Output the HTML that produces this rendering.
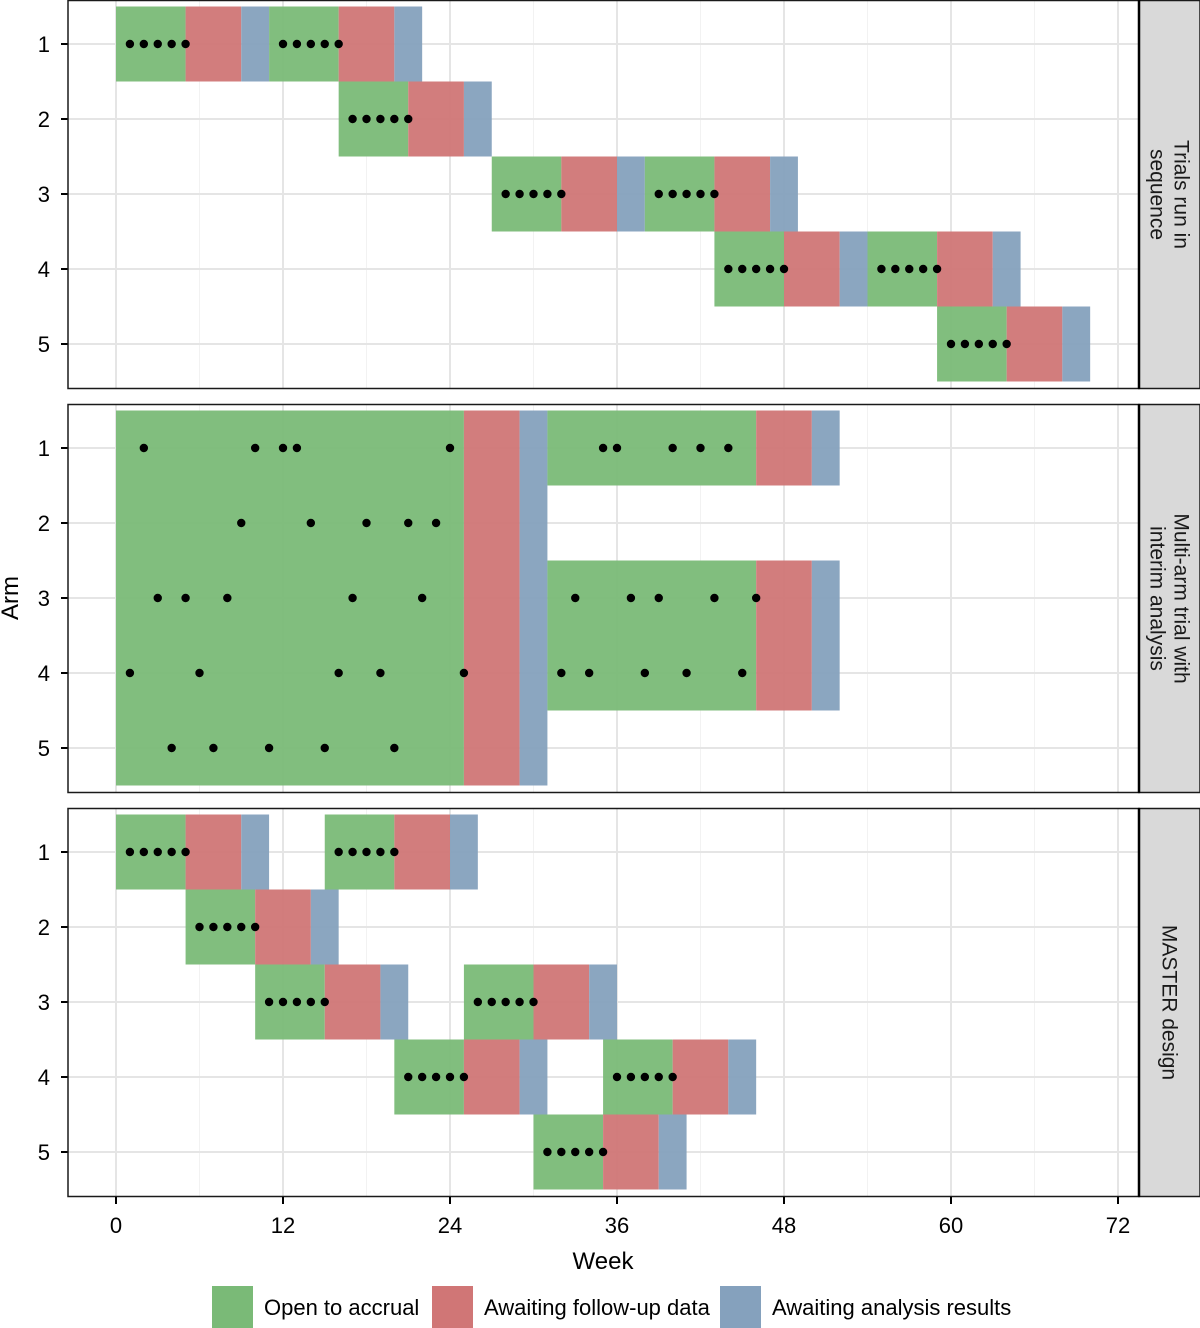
<!DOCTYPE html>
<html><head><meta charset="utf-8"><style>
html,body{margin:0;padding:0;background:#fff}
svg{display:block;font-family:"Liberation Sans",sans-serif}
</style></head><body>
<svg id="chart" width="1200" height="1328" viewBox="0 0 1200 1328"></svg>
<script>
// ---- data ----
const panelTitles = [["Trials run in","sequence"],["Multi-arm trial with","interim analysis"],["MASTER design"]];
const armLabels = ["1","2","3","4","5"];
const xTicks = [0,12,24,36,48,60,72];
// segments: [panel, armStart, armEnd, startWeek, endWeek, phase] phase 0=open,1=follow-up,2=analysis
const segments = [
 [0,1,1,0,5,0],[0,1,1,5,9,1],[0,1,1,9,11,2],
 [0,1,1,11,16,0],[0,1,1,16,20,1],[0,1,1,20,22,2],
 [0,2,2,16,21,0],[0,2,2,21,25,1],[0,2,2,25,27,2],
 [0,3,3,27,32,0],[0,3,3,32,36,1],[0,3,3,36,38,2],
 [0,3,3,38,43,0],[0,3,3,43,47,1],[0,3,3,47,49,2],
 [0,4,4,43,48,0],[0,4,4,48,52,1],[0,4,4,52,54,2],
 [0,4,4,54,59,0],[0,4,4,59,63,1],[0,4,4,63,65,2],
 [0,5,5,59,64,0],[0,5,5,64,68,1],[0,5,5,68,70,2],
 [1,1,5,0,25,0],[1,1,5,25,29,1],[1,1,5,29,31,2],
 [1,1,1,31,46,0],[1,1,1,46,50,1],[1,1,1,50,52,2],
 [1,3,4,31,46,0],[1,3,4,46,50,1],[1,3,4,50,52,2],
 [2,1,1,0,5,0],[2,1,1,5,9,1],[2,1,1,9,11,2],
 [2,1,1,15,20,0],[2,1,1,20,24,1],[2,1,1,24,26,2],
 [2,2,2,5,10,0],[2,2,2,10,14,1],[2,2,2,14,16,2],
 [2,3,3,10,15,0],[2,3,3,15,19,1],[2,3,3,19,21,2],
 [2,3,3,25,30,0],[2,3,3,30,34,1],[2,3,3,34,36,2],
 [2,4,4,20,25,0],[2,4,4,25,29,1],[2,4,4,29,31,2],
 [2,4,4,35,40,0],[2,4,4,40,44,1],[2,4,4,44,46,2],
 [2,5,5,30,35,0],[2,5,5,35,39,1],[2,5,5,39,41,2]
];
const dotsP0 = [[1,[1,2,3,4,5,12,13,14,15,16]],[2,[17,18,19,20,21]],[3,[28,29,30,31,32,39,40,41,42,43]],[4,[44,45,46,47,48,55,56,57,58,59]],[5,[60,61,62,63,64]]];
const dotsP1 = [[1,[2,10,12,13,24,35,36,40,42,44]],[2,[9,14,18,21,23]],[3,[3,5,8,17,22,33,37,39,43,46]],[4,[1,6,16,19,25,32,34,38,41,45]],[5,[4,7,11,15,20]]];
const dotsP2 = [[1,[1,2,3,4,5,16,17,18,19,20]],[2,[6,7,8,9,10]],[3,[11,12,13,14,15,26,27,28,29,30]],[4,[21,22,23,24,25,36,37,38,39,40]],[5,[31,32,33,34,35]]];
const legendLabels = ["Open to accrual","Awaiting follow-up data","Awaiting analysis results"];

// ---- layout ----
const colors = ["#7aba77","#d07676","#85a1bd"];
const phaseNames = ["open","followup","analysis"];
const L=68,R=1139,SW=61;
const panelTop=[0,404,808], PH=389;
const x = w => 116 + w*(1118-116)/72;
const y = (p,arm) => panelTop[p] + 44 + (arm-1)*75;
const NS="http://www.w3.org/2000/svg";
const svg=document.getElementById('chart');
function mk(tag,attrs,parent){const e=document.createElementNS(NS,tag);for(const k in attrs)e.setAttribute(k,attrs[k]);(parent||svg).appendChild(e);return e;}

for(let p=0;p<3;p++){
  const g=mk('g',{});
  
  
  const T=panelTop[p];
  mk('rect',{x:L,y:T,width:R-L,height:PH,fill:'#fff'},g);
  for(let w=6;w<=72;w+=12) mk('line',{x1:x(w),x2:x(w),y1:T,y2:T+PH,stroke:'#f2f2f2','stroke-width':1},g);
  for(const w of xTicks){mk('line',{x1:x(w),x2:x(w),y1:T,y2:T+PH,stroke:'#e5e5e5','stroke-width':2},g);}
  for(let a=1;a<=5;a++){
    mk('line',{x1:L,x2:R,y1:y(p,a),y2:y(p,a),stroke:'#e5e5e5','stroke-width':2},g);
    const t=mk('text',{x:50,y:y(p,a)+8,'text-anchor':'end','font-size':22,fill:'#000'},g);
    t.textContent=armLabels[a-1];
    
    
    mk('line',{x1:61,x2:L,y1:y(p,a),y2:y(p,a),stroke:'#000','stroke-width':2},g);
  }
  for(const s of segments){ if(s[0]!==p) continue;
    const r=mk('rect',{x:x(s[3]),y:y(p,s[1])-37.5,width:x(s[4])-x(s[3]),height:(s[2]-s[1]+1)*75,fill:colors[s[5]],'fill-opacity':0.95},g);
    
    
  }
  const dd=[dotsP0,dotsP1,dotsP2][p];
  for(const [arm,weeks] of dd) for(const w of weeks){
    const c=mk('circle',{cx:x(w),cy:y(p,arm),r:4.2,fill:'#000'},g);
    
    
  }
  mk('rect',{x:L,y:T+0.5,width:R-L,height:PH-1,fill:'none',stroke:'#1a1a1a','stroke-width':1.5},g);
  const st=mk('rect',{x:R,y:T+0.5,width:SW,height:PH-1,fill:'#d9d9d9',stroke:'#1a1a1a','stroke-width':1.5},g);
  
  
  mk('line',{x1:R,x2:R,y1:T,y2:T+PH,stroke:'#000','stroke-width':2.5},g);
  const lines=panelTitles[p], cx=R+SW/2, cy=T+PH/2;
  const tt=mk('text',{transform:`translate(${cx},${cy}) rotate(90)`,'text-anchor':'middle','font-size':21,fill:'#1a1a1a'},g);
  
  
  lines.forEach((ln,i)=>{const ts=mk('tspan',{x:0,y:(i-(lines.length-1)/2)*24+7},tt);ts.textContent=ln;});
}
for(const w of xTicks){
  mk('line',{x1:x(w),x2:x(w),y1:1197,y2:1204,stroke:'#000','stroke-width':2});
  const t=mk('text',{x:x(w),y:1233,'text-anchor':'middle','font-size':22,fill:'#000'});
  t.textContent=w;
  
  
}
const xt=mk('text',{x:603,y:1269,'text-anchor':'middle','font-size':24,fill:'#000'});xt.textContent='Week';

const yt=mk('text',{transform:'translate(18,598) rotate(-90)','text-anchor':'middle','font-size':24,fill:'#000'});yt.textContent='Arm';

const keyX=[212,432,720], txtX=[264,484,772];
for(let i=0;i<3;i++){
  const k=mk('rect',{x:keyX[i],y:1286,width:41,height:42,fill:colors[i]});
  
  const t=mk('text',{x:txtX[i],y:1315,'font-size':22,fill:'#000'});t.textContent=legendLabels[i];
  
}
</script>
</body></html>
